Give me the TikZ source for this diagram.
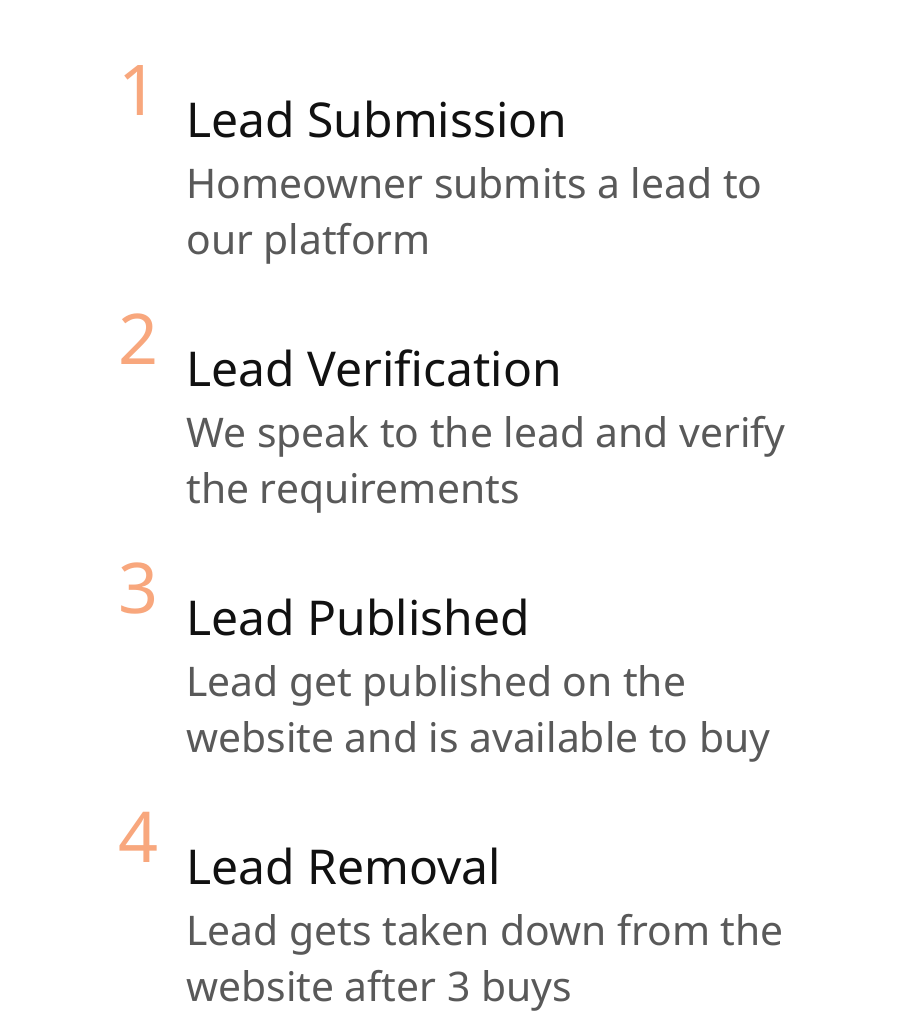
\documentclass[tikz,border=0pt]{standalone}
\usepackage{xcolor}
\usepackage{fontspec}
\setmainfont{Noto Sans}
\usepackage{tikz}
\definecolor{steporange}{HTML}{F8A77D}
\definecolor{descgray}{HTML}{595959}
\definecolor{titleblack}{HTML}{111111}

\begin{document}
\begin{tikzpicture}[x=0.5pt, y=-0.5pt,
    number/.style={text=steporange, inner sep=0, anchor=base west, font=\fontsize{35}{35}\selectfont},
    title/.style={text=titleblack, inner sep=0, anchor=base west, font=\fontsize{24}{24}\selectfont},
    desc/.style={text=descgray, inner sep=0, anchor=base west, font=\fontsize{20.4}{20.4}\selectfont}]
    \fill[white] (0,0) rectangle (912,1024);
    \useasboundingbox (0,0) rectangle (912,1024);

    % step 1
    \node [number] (num_one) at (118,115) {1};
    \node [title] (title_one) at (186,137) {Lead Submission};
    \node [desc] (desc_one_a) at (186,198) {Homeowner submits a lead to};
    \node [desc] (desc_one_b) at (186,254) {our platform};

    % step 2
    \node [number] (num_two) at (118,364) {2};
    \node [title] (title_two) at (186,386) {Lead Verification};
    \node [desc] (desc_two_a) at (186,447) {We speak to the lead and verify};
    \node [desc] (desc_two_b) at (186,503) {the requirements};

    % step 3
    \node [number] (num_three) at (118,613) {3};
    \node [title] (title_three) at (186,635) {Lead Published};
    \node [desc] (desc_three_a) at (186,696) {Lead get published on the};
    \node [desc] (desc_three_b) at (186,752) {website and is available to buy};

    % step 4
    \node [number] (num_four) at (118,862) {4};
    \node [title] (title_four) at (186,884) {Lead Removal};
    \node [desc] (desc_four_a) at (186,945) {Lead gets taken down from the};
    \node [desc] (desc_four_b) at (186,1001) {website after 3 buys};
\end{tikzpicture}
\end{document}
